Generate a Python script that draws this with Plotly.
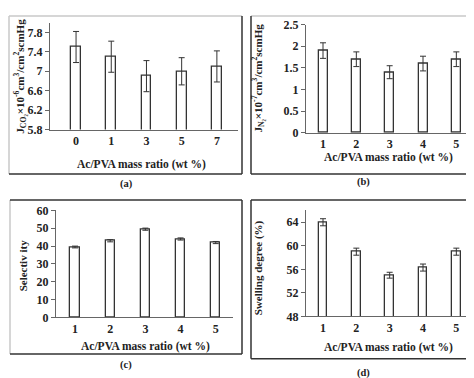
import plotly.graph_objects as go

W, H = 474, 378

# ---- data ----
a_cats = ["0", "1", "3", "5", "7"]
a_vals = [7.5, 7.3, 6.9, 7.0, 7.1]
a_err = [0.32, 0.32, 0.32, 0.28, 0.32]

b_cats = ["1", "2", "3", "4", "5"]
b_vals = [1.9, 1.7, 1.4, 1.6, 1.7]
b_err = [0.18, 0.17, 0.15, 0.17, 0.17]

c_cats = ["1", "2", "3", "4", "5"]
c_vals = [39.5, 43.0, 49.5, 44.0, 42.0]
c_err = [0.5, 0.6, 0.6, 0.6, 0.6]

d_cats = ["1", "2", "3", "4", "5"]
d_vals = [64.0, 59.0, 55.0, 56.3, 59.0]
d_err = [0.6, 0.6, 0.5, 0.6, 0.6]

a_ticks = [5.8, 6.2, 6.6, 7.0, 7.4, 7.8]
a_ticktext = ["5.8", "6.2", "6.6", "7", "7.4", "7.8"]
b_ticks = [0, 0.5, 1, 1.5, 2, 2.5]
b_ticktext = ["0", "0.5", "1", "1.5", "2", "2.5"]
c_ticks = [0, 10, 20, 30, 40, 50, 60]
d_ticks = [48, 52, 56, 60, 64]

xtitle = "Ac/PVA mass ratio (wt %)"
a_ytitle = "J<sub>CO₂</sub>×10<sup>-6</sup>cm<sup>3</sup>/cm<sup>2</sup>scmHg"
b_ytitle = "J<sub>N₂</sub>×10<sup>-7</sup>cm<sup>3</sup>/cm<sup>2</sup>scmHg"
c_ytitle = "Selectiv ity"
d_ytitle = "Swelling degree (%)"
panel_labels = ["(a)", "(b)", "(c)", "(d)"]

FONT = "Liberation Serif, Times New Roman, serif"
DARK = "#333333"
AX = "#666666"
TXT = "#222222"


def px(x):
    return x / W


def py(y):
    return 1 - y / H


fig = go.Figure()

panels = [
    ("", a_cats, a_vals, a_err, 0.28),
    ("2", b_cats, b_vals, b_err, 0.27),
    ("3", c_cats, c_vals, c_err, 0.26),
    ("4", d_cats, d_vals, d_err, 0.26),
]
for suf, cats, vals, err, bw in panels:
    fig.add_trace(go.Bar(
        x=cats, y=vals, width=bw,
        marker=dict(color="white", line=dict(color=DARK, width=1.3)),
        error_y=dict(type="data", array=err, color=DARK, thickness=1, width=3),
        xaxis="x" + suf, yaxis="y" + suf, showlegend=False,
    ))

tickfont = dict(family=FONT, size=12, color=TXT, weight="bold")


def xax(dom, rng, anchor):
    return dict(domain=dom, type="category", range=rng, anchor=anchor,
                showline=True, linecolor=AX, linewidth=1, ticks="",
                showgrid=False, zeroline=False, tickfont=tickfont, fixedrange=True)


def yax(dom, rng, anchor, tv, tt=None):
    d = dict(domain=dom, range=rng, anchor=anchor, showline=True, linecolor=AX,
             linewidth=1, ticks="outside", ticklen=4, tickcolor=AX,
             showgrid=False, zeroline=False, tickfont=tickfont,
             tickvals=tv, fixedrange=True)
    if tt is not None:
        d["ticktext"] = tt
    return d


fig.update_layout(
    width=W, height=H, margin=dict(l=0, r=0, t=0, b=0),
    paper_bgcolor="white", plot_bgcolor="white", bargap=0,
    font=dict(family=FONT, color=TXT),
    xaxis=xax([px(42), px(230)], [-0.74, 4.6], "y"),
    yaxis=yax([py(119), py(8)], [5.8, 8.0], "x", a_ticks, a_ticktext),
    xaxis2=xax([px(298), px(462)], [-0.51, 4.41], "y2"),
    yaxis2=yax([py(122.3), py(10)], [0, 2.5], "x2", b_ticks, b_ticktext),
    xaxis3=xax([px(48), px(225)], [-0.54, 4.49], "y3"),
    yaxis3=yax([py(314), py(203)], [0, 60], "x3", c_ticks),
    xaxis4=xax([px(298), px(462)], [-0.51, 4.41], "y4"),
    yaxis4=yax([py(313), py(203)], [48, 66], "x4", d_ticks),
)

ann = []


def text(x, y, s, size=11, angle=0):
    ann.append(dict(x=px(x), y=py(y), xref="paper", yref="paper", text=s,
                    showarrow=False, textangle=angle, xanchor="center", yanchor="middle",
                    font=dict(family=FONT, size=size, color=TXT, weight="bold")))


text(133, 155, xtitle, 11.5)
text(380, 148, xtitle, 11.5)
text(137, 344, xtitle, 11.5)
text(380, 345, xtitle, 11.5)
text(12, 64, a_ytitle, 11, -90)
text(250, 66, b_ytitle, 11, -90)
text(15, 260, c_ytitle, 11, -90)
text(250, 263, d_ytitle, 11, -90)
text(118, 175, panel_labels[0], 10.5)
text(355, 173, panel_labels[1], 10.5)
text(118, 363, panel_labels[2], 10.5)
text(355, 372, panel_labels[3], 10.5)
fig.update_layout(annotations=ann)

LIGHT = "#c8c8c8"
shapes = []


def line(x0, y0, x1, y1, c):
    shapes.append(dict(type="line", xref="paper", yref="paper", x0=px(x0), y0=py(y0),
                       x1=px(x1), y1=py(y1), line=dict(color=c, width=1.5)))


# panel a
line(1, 1, 234, 1, LIGHT); line(1, 1, 1, 165, LIGHT)
line(234, 1, 234, 165, DARK); line(1, 165, 234, 165, DARK)
# panel b
line(243, 1, 472, 1, LIGHT); line(472, 1, 472, 165, LIGHT)
line(243, 1, 243, 165, DARK); line(243, 165, 472, 165, DARK)
# panel c
line(2, 192, 2, 352, LIGHT)
line(2, 192, 234, 192, DARK); line(234, 192, 234, 352, DARK); line(2, 352, 234, 352, DARK)
# panel d
line(472, 192, 472, 357, LIGHT)
line(243, 192, 472, 192, DARK); line(243, 192, 243, 357, DARK); line(243, 357, 472, 357, DARK)
fig.update_layout(shapes=shapes)

fig.write_html("out.html")
